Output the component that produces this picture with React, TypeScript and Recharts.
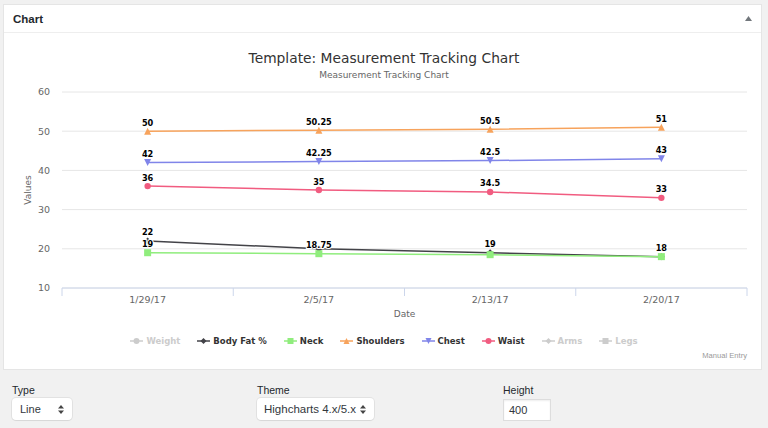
import React from "react";
import { LineChart, Line, XAxis, YAxis, CartesianGrid, Legend, LabelList } from "recharts";

const dates = ["1/29/17", "2/5/17", "2/13/17", "2/20/17"];
const bodyFat = [22, 20, 19, 18];
const neck = [19, 18.75, 18.5, 18];
const shoulders = [50, 50.25, 50.5, 51];
const chest = [42, 42.25, 42.5, 43];
const waist = [36, 35, 34.5, 33];
const yTicks = [10, 20, 30, 40, 50, 60];

// the chart dropped labels that collided; these are the ones it kept
const bodyFatLabelShown = [true, false, true, true];
const neckLabelShown = [true, true, false, false];

const data = dates.map((date, i) => ({
    date,
    bodyFat: bodyFat[i],
    neck: neck[i],
    shoulders: shoulders[i],
    chest: chest[i],
    waist: waist[i],
    bodyFatLabel: bodyFatLabelShown[i] ? bodyFat[i] : null,
    neckLabel: neckLabelShown[i] ? neck[i] : null,
}));

const series = [
    { key: "weight", name: "Weight", color: "#7cb5ec", shape: "circle", hidden: true, label: "" },
    { key: "bodyFat", name: "Body Fat %", color: "#434348", shape: "diamond", hidden: false, label: "bodyFatLabel" },
    { key: "neck", name: "Neck", color: "#90ed7d", shape: "square", hidden: false, label: "neckLabel" },
    { key: "shoulders", name: "Shoulders", color: "#f7a35c", shape: "triangle", hidden: false, label: "shoulders" },
    { key: "chest", name: "Chest", color: "#8085e9", shape: "triangle-down", hidden: false, label: "chest" },
    { key: "waist", name: "Waist", color: "#f15c80", shape: "circle", hidden: false, label: "waist" },
    { key: "arms", name: "Arms", color: "#e4d354", shape: "diamond", hidden: true, label: "" },
    { key: "legs", name: "Legs", color: "#2b908f", shape: "square", hidden: true, label: "" },
];

const HC_FONT = '"DejaVu Sans", Verdana, sans-serif';
const UI_FONT = '"Liberation Sans", Arial, sans-serif';
const PLOT_LEFT = 62;
const PLOT_RIGHT = 747;
const HALF_BAND = (PLOT_RIGHT - PLOT_LEFT) / dates.length / 2;

function marker(shape: string, cx: number, cy: number, r: number, color: string, key?: string) {
    switch (shape) {
        case "square":
            return <rect key={key} x={cx - r} y={cy - r} width={2 * r} height={2 * r} fill={color} />;
        case "diamond":
            return <path key={key} d={`M${cx} ${cy - r}L${cx + r} ${cy}L${cx} ${cy + r}L${cx - r} ${cy}Z`} fill={color} />;
        case "triangle":
            return <path key={key} d={`M${cx} ${cy - r}L${cx + r} ${cy + r}L${cx - r} ${cy + r}Z`} fill={color} />;
        case "triangle-down":
            return <path key={key} d={`M${cx - r} ${cy - r}L${cx + r} ${cy - r}L${cx} ${cy + r}Z`} fill={color} />;
        default:
            return <circle key={key} cx={cx} cy={cy} r={r} fill={color} />;
    }
}

const DateTick = (props: any) => {
    const { x, y, payload, index } = props;
    return (
        <g>
            <line x1={x - HALF_BAND} x2={x - HALF_BAND} y1={y} y2={y + 8} stroke="#ccd6eb" />
            {index === dates.length - 1 && (
                <line x1={x + HALF_BAND} x2={x + HALF_BAND} y1={y} y2={y + 8} stroke="#ccd6eb" />
            )}
            <text x={x} y={y + 15} textAnchor="middle" fill="#666666" fontSize={9.5} fontFamily={HC_FONT}>
                {payload.value}
            </text>
        </g>
    );
};

const PointLabel = (props: any) => {
    const { x, y, value } = props;
    if (value === null || value === undefined || value === "") return null;
    return (
        <text
            x={x}
            y={y - 5.5}
            textAnchor="middle"
            fontSize={8.2}
            fontWeight="bold"
            fontFamily={HC_FONT}
            fill="#000000"
            stroke="#ffffff"
            strokeWidth={2}
            paintOrder="stroke"
        >
            {value}
        </text>
    );
};

const orderOf = (key: string) => series.findIndex((it) => it.key === key);

const LegendContent = (props: any) => {
    const payload = [...(props.payload || [])].sort((a: any, b: any) => orderOf(a.dataKey) - orderOf(b.dataKey));
    return (
        <div
            style={{
                display: "flex",
                justifyContent: "center",
                alignItems: "center",
                gap: 17,
                height: 12,
                fontFamily: HC_FONT,
                fontSize: 8.5,
                fontWeight: "bold",
            }}
        >
            {payload.map((entry: any) => {
                const s = series[orderOf(entry.dataKey)];
                const color = entry.inactive ? "#cccccc" : entry.color;
                return (
                    <div key={entry.dataKey} style={{ display: "flex", alignItems: "center" }}>
                        <svg width={13} height={10}>
                            <line x1={0} x2={13} y1={5} y2={5} stroke={color} strokeWidth={1.5} />
                            {marker(s ? s.shape : "circle", 6.5, 5, 3, color)}
                        </svg>
                        <span style={{ marginLeft: 3, color: entry.inactive ? "#cccccc" : "#333333" }}>{entry.value}</span>
                    </div>
                );
            })}
        </div>
    );
};

const SelectArrows = () => (
    <svg width={6} height={9} style={{ position: "absolute", right: 8, top: 7 }}>
        <path d="M0 3.5L3 0L6 3.5Z" fill="#444" />
        <path d="M0 5.5L6 5.5L3 9Z" fill="#444" />
    </svg>
);

const MeasurementChart: React.FC = () => {
    return (
        <div style={{ position: "relative", width: 768, height: 428, background: "#f1f1f1", overflow: "hidden", fontFamily: UI_FONT }}>
            <style>{"body{margin:0}"}</style>
            <div
                style={{
                    position: "absolute",
                    left: 3,
                    top: 4,
                    width: 759,
                    height: 366,
                    background: "#ffffff",
                    border: "1px solid #e5e5e5",
                    boxSizing: "border-box",
                }}
            />
            <div style={{ position: "absolute", left: 4, top: 32, width: 757, height: 1, background: "#eeeeee" }} />
            <div style={{ position: "absolute", left: 13, top: 12, fontSize: 11.5, fontWeight: "bold", color: "#23282d", lineHeight: "14px" }}>
                Chart
            </div>
            <svg width={7} height={5} style={{ position: "absolute", left: 745, top: 16 }}>
                <path d="M0 5L3.5 0L7 5Z" fill="#72777c" />
            </svg>

            <div style={{ position: "absolute", left: 0, top: 49, width: 768, textAlign: "center", fontFamily: HC_FONT, fontSize: 13.8, color: "#333333", lineHeight: "18px" }}>
                Template: Measurement Tracking Chart
            </div>
            <div style={{ position: "absolute", left: 0, top: 69, width: 768, textAlign: "center", fontFamily: HC_FONT, fontSize: 9, color: "#666666", lineHeight: "12px" }}>
                Measurement Tracking Chart
            </div>

            <div style={{ position: "absolute", left: 0, top: 0 }}>
                <LineChart width={768} height={370} data={data} margin={{ top: 92, right: 768 - PLOT_RIGHT, left: 2, bottom: 52 }}>
                    <CartesianGrid vertical={false} stroke="#e6e6e6" />
                    <XAxis
                        dataKey="date"
                        scale="band"
                        height={30}
                        stroke="#ccd6eb"
                        tickLine={false}
                        tickSize={0}
                        tickMargin={0}
                        tick={<DateTick />}
                        interval={0}
                        label={(p: any) => {
                            const vb = p.viewBox || { x: PLOT_LEFT, y: 288, width: PLOT_RIGHT - PLOT_LEFT };
                            return (
                                <text x={vb.x + vb.width / 2} y={vb.y + 29} textAnchor="middle" fill="#666666" fontSize={9} fontFamily={HC_FONT}>
                                    Date
                                </text>
                            );
                        }}
                    />
                    <YAxis
                        domain={[10, 60]}
                        ticks={yTicks}
                        width={PLOT_LEFT - 2}
                        axisLine={false}
                        tickLine={false}
                        tickSize={0}
                        tickMargin={12}
                        tick={{ fill: "#666666", fontSize: 9.5, fontFamily: HC_FONT }}
                        label={(p: any) => {
                            const vb = p.viewBox || { x: 2, y: 92, height: 196 };
                            const cy = vb.y + vb.height / 2;
                            return (
                                <text x={28} y={cy} transform={`rotate(-90 28 ${cy})`} textAnchor="middle" dominantBaseline="central" fill="#666666" fontSize={9} fontFamily={HC_FONT}>
                                    Values
                                </text>
                            );
                        }}
                    />
                    <Legend
                        layout="horizontal"
                        verticalAlign="middle"
                        align="center"
                        content={<LegendContent />}
                        wrapperStyle={{ top: 335, left: 0, width: 768, height: 12 }}
                    />
                    {series.map((s) => (
                        <Line
                            key={s.key}
                            dataKey={s.key}
                            name={s.name}
                            stroke={s.color}
                            strokeWidth={1.5}
                            hide={s.hidden}
                            isAnimationActive={false}
                            dot={(p: any) => marker(s.shape, p.cx, p.cy, s.shape === "circle" ? 3.2 : 3.5, s.color, `${s.key}-${p.index}`)}
                            activeDot={false}
                        >
                            {s.label && <LabelList dataKey={s.label} content={<PointLabel />} />}
                        </Line>
                    ))}
                </LineChart>
            </div>

            <div style={{ position: "absolute", right: 21, top: 351, fontSize: 7.6, color: "#999999", lineHeight: "10px" }}>
                Manual Entry
            </div>

            <div style={{ position: "absolute", left: 12, top: 384, fontSize: 10.5, color: "#23282d", lineHeight: "12px" }}>Type</div>
            <div style={{ position: "absolute", left: 12, top: 398, width: 60, height: 22, background: "#fff", borderRadius: 4, boxShadow: "0 0 0 1px rgba(0,0,0,0.06), 0 1px 1px rgba(0,0,0,0.05)" }}>
                <span style={{ position: "absolute", left: 8, top: 4, fontSize: 11, color: "#32373c", lineHeight: "14px" }}>Line</span>
                <SelectArrows />
            </div>

            <div style={{ position: "absolute", left: 257, top: 384, fontSize: 10.5, color: "#23282d", lineHeight: "12px" }}>Theme</div>
            <div style={{ position: "absolute", left: 257, top: 398, width: 117, height: 22, background: "#fff", borderRadius: 4, boxShadow: "0 0 0 1px rgba(0,0,0,0.06), 0 1px 1px rgba(0,0,0,0.05)" }}>
                <span style={{ position: "absolute", left: 7, top: 4, fontSize: 11.5, color: "#32373c", lineHeight: "14px", whiteSpace: "nowrap" }}>
                    Highcharts 4.x/5.x
                </span>
                <SelectArrows />
            </div>

            <div style={{ position: "absolute", left: 503, top: 384, fontSize: 10.5, color: "#23282d", lineHeight: "12px" }}>Height</div>
            <div style={{ position: "absolute", left: 503, top: 399, width: 48, height: 22, background: "#fff", border: "1px solid #dddddd", boxSizing: "border-box", boxShadow: "inset 0 1px 2px rgba(0,0,0,0.07)" }}>
                <span style={{ position: "absolute", left: 5, top: 3, fontSize: 11, color: "#32373c", lineHeight: "14px" }}>400</span>
            </div>
        </div>
    );
};

export default MeasurementChart;
